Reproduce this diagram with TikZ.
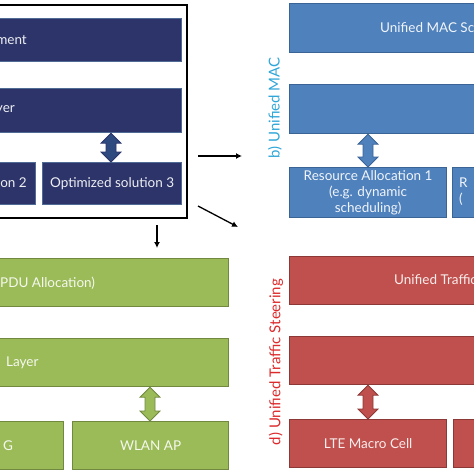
\documentclass[tikz,border=0pt]{standalone}
\usepackage{fontspec}
\setmainfont{Lato}
\usetikzlibrary{calc,arrows.meta}
\definecolor{navyfill}{HTML}{2C3469}
\definecolor{navyline}{HTML}{4F6A94}
\definecolor{navyarrow}{HTML}{2F4A7F}
\definecolor{macfill}{HTML}{4F81BD}
\definecolor{macline}{HTML}{3A6496}
\definecolor{pdufill}{HTML}{9BBB59}
\definecolor{pduline}{HTML}{71893F}
\definecolor{tsfill}{HTML}{C0504D}
\definecolor{tsline}{HTML}{8C3836}
\definecolor{maclabel}{HTML}{2FA6D8}
\definecolor{tslabel}{HTML}{DC2A2C}
\begin{document}
\begin{tikzpicture}[x=1pt,y=-1pt,
  box/.style={draw,line width=1.2pt,inner sep=0pt,anchor=north west,align=center,
    font=\fontsize{13.5}{16}\selectfont},
  navybox/.style={box,fill=navyfill,draw=navyline,text=white!92!navyfill},
  macbox/.style={box,fill=macfill,draw=macline,text=white!92!macfill},
  pdubox/.style={box,fill=pdufill,draw=pduline,text=white!90!pdufill},
  tsbox/.style={box,fill=tsfill,draw=tsline,text=white!90!tsfill},
  cut/.style={inner sep=0pt,font=\fontsize{13.5}{16}\selectfont},
  arr/.style={line width=1.3pt,-{Latex[length=6pt,width=6pt]}},
  side/.style={rotate=90,inner sep=0pt,font=\fontsize{15}{17}\selectfont}]
\useasboundingbox (0,0) rectangle (474,474);
% a) frame with the three navy layers
\node[draw,line width=2pt,minimum width=206pt,minimum height=213pt,anchor=north west] (frameA) at (-20,4) {};
\node[navybox,minimum width=400pt,minimum height=43pt] (nvA) at (-219,18) {};
\node[navybox,minimum width=400pt,minimum height=44pt] (nvB) at (-219,88) {};
\node[navybox,minimum width=235pt,minimum height=42pt] (nvC) at (-200,162) {};
\node[navybox,minimum width=139pt,minimum height=42pt] (nvD) at (42,162) {Optimized solution 3};
\node[cut,anchor=east,text=white!92!navyfill] (nvAtxt) at (27,40) {ment};
\node[cut,anchor=east,text=white!92!navyfill] (nvBtxt) at (15,110) {yer};
\node[cut,anchor=east,text=white!92!navyfill] (nvCtxt) at (27,183) {on 2};
% b) unified MAC
\node[macbox,minimum width=300pt,minimum height=49pt] (macA) at (289,3) {};
\node[macbox,minimum width=300pt,minimum height=49pt] (macB) at (289,84) {};
\node[macbox,minimum width=157pt,minimum height=50pt] (macC) at (289,167) {Resource Allocation 1\\(e.g. dynamic\\scheduling)};
\node[macbox,minimum width=100pt,minimum height=50pt] (macD) at (452,167) {};
\node[cut,anchor=west,text=white!92!macfill] (macAtxt) at (380,28) {Unified MAC Sc};
\node[cut,anchor=west,text=white!92!macfill,align=left] (macDtxt) at (459,192) {R\\(};
\node[side,text=maclabel] (macLbl) at (275,108) {b) Unified MAC};
% c) PDU allocation
\node[pdubox,minimum width=400pt,minimum height=48pt] (pduA) at (-172,258) {};
\node[pdubox,minimum width=400pt,minimum height=48pt] (pduB) at (-172,338) {};
\node[pdubox,minimum width=200pt,minimum height=48pt] (pduC) at (-137,421) {};
\node[pdubox,minimum width=156pt,minimum height=48pt] (pduD) at (72,421) {WLAN AP};
\node[cut,anchor=west,text=white!90!pdufill] (pduAtxt) at (0,283) {PDU Allocation)};
\node[cut,anchor=west,text=white!90!pdufill] (pduBtxt) at (6,363) {Layer};
\node[cut,anchor=west,text=white!90!pdufill] (pduCtxt) at (3,446) {G};
% d) unified traffic steering
\node[tsbox,minimum width=300pt,minimum height=48pt] (tsA) at (289,256) {};
\node[tsbox,minimum width=300pt,minimum height=48pt] (tsB) at (289,336) {};
\node[tsbox,minimum width=157pt,minimum height=48pt] (tsC) at (289,419) {LTE Macro Cell};
\node[tsbox,minimum width=100pt,minimum height=48pt] (tsD) at (453,419) {};
\node[cut,anchor=west,text=white!90!tsfill] (tsAtxt) at (394,280) {Unified Traffic};
\node[side,text=tslabel] (tsLbl) at (276,362) {d) Unified Traffic Steering};
% block double arrows between the layers
\foreach \ax/\up/\dn/\af/\al in {111/nvB/nvD/navyarrow/navyfill,368/macB/macC/macfill/macline,
    150/pduB/pduD/pdufill/pduline,368/tsB/tsC/tsfill/tsline}{
  \path (\ax,0 |- \up.south) coordinate (t) (\ax,0 |- \dn.north) coordinate (b);
  \draw[fill=\af,draw=\al,line width=0.8pt,line join=miter]
    (t) -- ++(10,10) -- ++(-5,0) -- ($(b)+(5,-10)$) -- ++(5,0) -- (b) -- ++(-10,-10)
    -- ++(5,0) -- ($(t)+(-5,10)$) -- ++(-5,0) -- cycle;}
% arrows out of the frame
\coordinate (macIn) at (242,156);
\coordinate (tsIn) at (238,227);
\coordinate (pduIn) at (157,248);
\draw[arr] ($(frameA.east |- macIn)+(10,0)$) -- (macIn);
\draw[arr] ($(frameA.south east)+(10,-13)$) -- (tsIn);
\draw[arr] ($(frameA.south -| pduIn)+(0,6)$) -- (pduIn);
\end{tikzpicture}
\end{document}
